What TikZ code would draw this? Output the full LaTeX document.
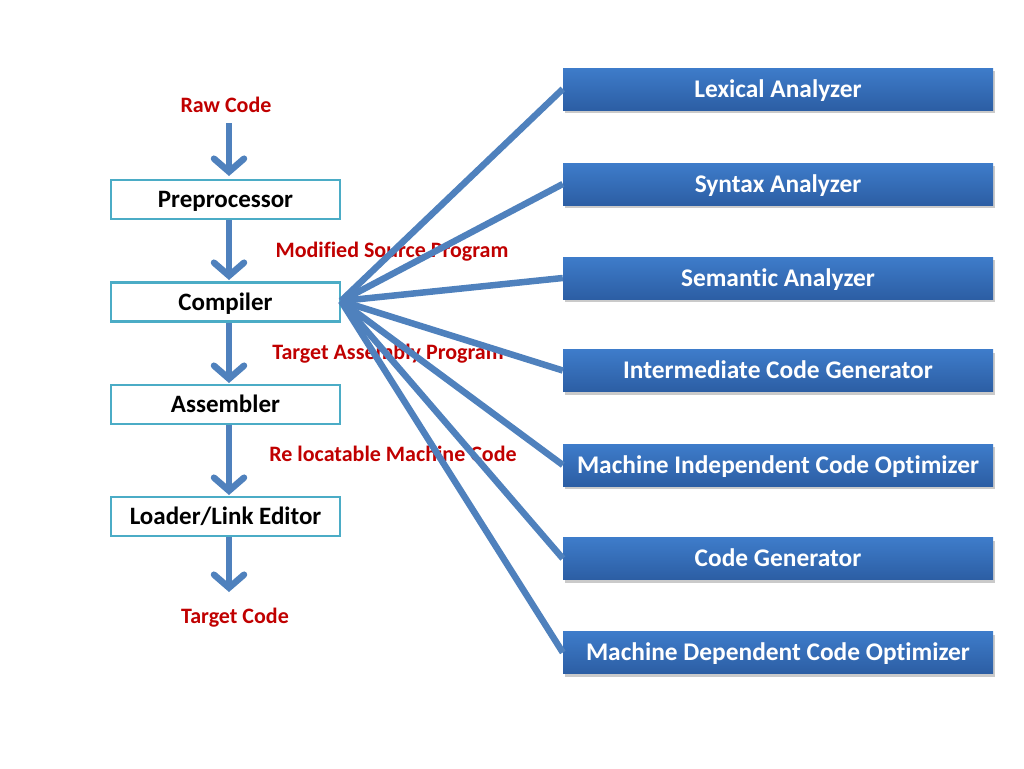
\documentclass[tikz,border=0pt]{standalone}
\usepackage{fontspec}
\setmainfont{Carlito}[Ligatures={NoCommon}]
\usetikzlibrary{arrows.meta,shadows}
\definecolor{arrowblue}{RGB}{79,129,189}
\definecolor{boxedge}{RGB}{75,172,198}
\definecolor{labelred}{RGB}{192,0,0}
\definecolor{gradtop}{RGB}{62,124,202}
\definecolor{gradbot}{RGB}{44,94,164}
\begin{document}
\begin{tikzpicture}[x=1pt,y=-1pt,
  leftbox/.style={draw=boxedge,line width=2.5pt,fill=white,minimum width=229pt,minimum height=39pt,inner sep=0pt,text height=16pt,text depth=0pt,font=\fontsize{25}{30}\selectfont\bfseries,text=black},
  rightbox/.style={top color=gradtop,bottom color=gradbot,draw=none,minimum width=430pt,minimum height=42pt,inner sep=0pt,text height=16pt,text depth=0pt,font=\fontsize{25.4}{30}\selectfont\bfseries,text=white,drop shadow={shadow xshift=2pt,shadow yshift=-3pt,opacity=0.35,fill=black!60}},
  redlabel/.style={font=\fontsize{22}{26}\selectfont\bfseries,text=labelred,inner sep=0pt,text height=14pt,text depth=0pt},
  flow/.style={draw=arrowblue,line width=6.5pt,-{Straight Barb[length=13pt,width=30pt,line cap=round]}},
  fan/.style={draw=arrowblue,line width=6.5pt}
]
\useasboundingbox (0,0) rectangle (1024,768);
% left column
\node[redlabel] (raw) at (226,105.5) {Raw Code};
\node[leftbox] (pre) at (225.5,199.5) {Preprocessor};
\node[leftbox] (comp) at (225.5,302) {Compiler};
\node[leftbox] (asm) at (225.5,404.5) {Assembler};
\node[leftbox] (load) at (225.5,516.5) {Loader/Link Editor};
\node[redlabel] (tgt) at (235,616.5) {Target Code};
\node[redlabel] (msp) at (392,250) {Modified Source Program};
\node[redlabel] (tap) at (388,352) {Target Assembly Program};
\node[redlabel] (rmc) at (393,454.5) {Re locatable Machine Code};
% right column
\node[rightbox] (lex) at (778,89) {Lexical Analyzer};
\node[rightbox] (syn) at (778,184) {Syntax Analyzer};
\node[rightbox] (sem) at (778,278) {Semantic Analyzer};
\node[rightbox] (icg) at (778,370.5) {Intermediate Code Generator};
\node[rightbox] (mico) at (778,465) {Machine Independent Code Optimizer};
\node[rightbox] (cg) at (778,558.5) {Code Generator};
\node[rightbox] (mdco) at (778,652.5) {Machine Dependent Code Optimizer};
% vertical flow arrows
\coordinate (rawend) at (229,123);
\coordinate (tgtend) at (229,592);
\draw[flow] (rawend) -- (229,176);
\draw[flow] (pre.south -| 229,0) -- (229,280);
\draw[flow] (comp.south -| 229,0) -- (229,383);
\draw[flow] (asm.south -| 229,0) -- (229,495);
\draw[flow] (load.south -| 229,0) -- (tgtend);
% fan lines
\coordinate (hub) at (341,301);
\foreach \n in {lex,syn,sem,icg,mico,cg,mdco}
  \draw[fan] (hub) -- (\n.west);
\end{tikzpicture}
\end{document}
